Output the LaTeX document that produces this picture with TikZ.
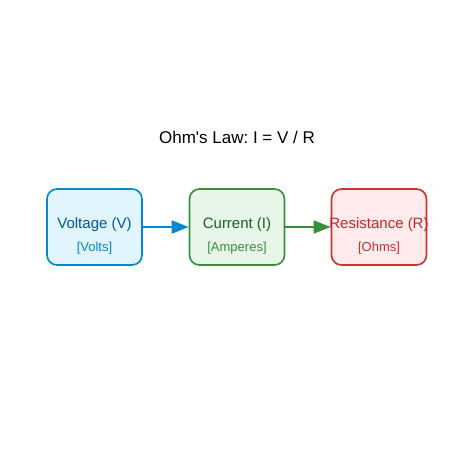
\documentclass[tikz,border=0pt]{standalone}
\usepackage{fontspec}
\setmainfont{Liberation Sans}
\usetikzlibrary{arrows.meta}
\definecolor{vfill}{HTML}{E1F5FE}\definecolor{vdraw}{HTML}{0288D1}\definecolor{vtext}{HTML}{01579B}
\definecolor{cfill}{HTML}{E8F5E9}\definecolor{cdraw}{HTML}{388E3C}\definecolor{ctext}{HTML}{1B5E20}
\definecolor{rfill}{HTML}{FFEBEE}\definecolor{rdraw}{HTML}{D32F2F}\definecolor{rtext}{HTML}{C62828}
\frenchspacing
\begin{document}
\begin{tikzpicture}[x=1pt,y=-1pt,
  box/.style={draw,line width=1.6pt,rounded corners=10pt,minimum width=95pt,minimum height=76pt,inner sep=0pt},
  lbl/.style={font=\fontsize{15}{18}\selectfont},
  sub/.style={font=\fontsize{13}{16}\selectfont},
  conn/.style={line width=1.8pt,-{Triangle[length=17pt,width=13pt]}}]
\useasboundingbox (0,0) rectangle (474,474);
\node[font=\fontsize{17}{20}\selectfont] (title) at (237,137) {Ohm\textquotesingle s Law: I = V / R};
\node[box,fill=vfill,draw=vdraw] (v) at (94.5,227) {};
\node[box,fill=cfill,draw=cdraw] (c) at (237,227) {};
\node[box,fill=rfill,draw=rdraw] (r) at (379,227) {};
\node[lbl,text=vtext] (vl) at (94.5,224.5) {Voltage (V)};
\node[sub,text=vdraw] (vs) at (94.5,248) {[Volts]};
\node[lbl,text=ctext] (cl) at (237,224.5) {Current (I)};
\node[sub,text=cdraw] (cs) at (237,248) {[Amperes]};
\node[lbl,text=rtext] (rl) at (379,224.5) {Resistance (R)};
\node[sub,text=rdraw] (rs) at (379,248) {[Ohms]};
\draw[conn,vdraw] (v.east) -- (c.west);
\draw[conn,cdraw] (c.east) -- (r.west);
\end{tikzpicture}
\end{document}
